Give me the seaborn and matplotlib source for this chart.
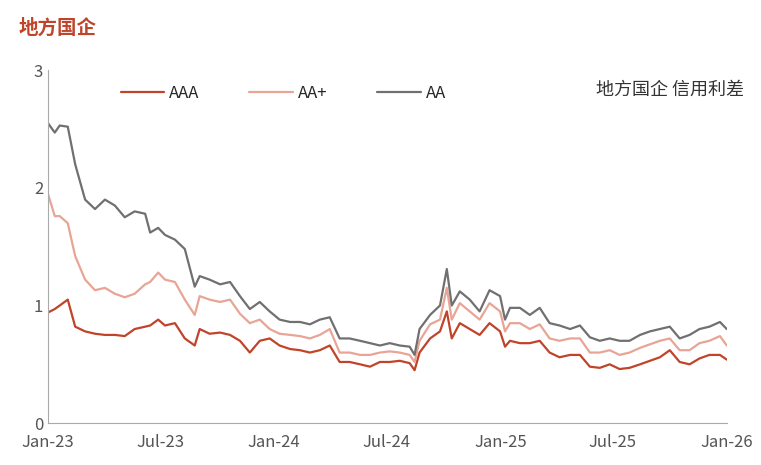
import pandas as pd
import matplotlib.pyplot as plt
import matplotlib.dates as mdates
import seaborn as sns

dates = ['2023-01-01', '2023-01-12', '2023-01-20', '2023-02-02', '2023-02-14', '2023-03-02', '2023-03-18', '2023-04-03',
         '2023-04-19', '2023-05-05', '2023-05-21', '2023-06-07', '2023-06-15', '2023-06-28', '2023-07-09', '2023-07-25',
         '2023-08-10', '2023-08-26', '2023-09-03', '2023-09-19', '2023-10-06', '2023-10-22', '2023-11-07', '2023-11-23',
         '2023-12-09', '2023-12-25', '2024-01-10', '2024-01-27', '2024-02-12', '2024-02-28', '2024-03-15', '2024-03-31',
         '2024-04-16', '2024-05-02', '2024-05-19', '2024-06-04', '2024-06-20', '2024-07-06', '2024-07-22', '2024-08-07',
         '2024-08-15', '2024-08-23', '2024-09-09', '2024-09-25', '2024-10-06', '2024-10-14', '2024-10-27', '2024-11-12',
         '2024-11-28', '2024-12-14', '2024-12-31', '2025-01-08', '2025-01-16', '2025-02-01', '2025-02-17', '2025-03-05',
         '2025-03-21', '2025-04-06', '2025-04-23', '2025-05-09', '2025-05-25', '2025-06-10', '2025-06-26', '2025-07-12',
         '2025-07-28', '2025-08-14', '2025-08-30', '2025-09-15', '2025-10-01', '2025-10-17', '2025-11-02', '2025-11-18',
         '2025-12-04', '2025-12-21', '2026-01-01']

aaa = [0.94, 0.97, 1.0, 1.05, 0.82, 0.78, 0.76, 0.75, 0.75, 0.74,
       0.80, 0.82, 0.83, 0.88, 0.83, 0.85, 0.72, 0.66, 0.80, 0.76,
       0.77, 0.75, 0.70, 0.60, 0.70, 0.72, 0.66, 0.63, 0.62, 0.60,
       0.62, 0.66, 0.52, 0.52, 0.50, 0.48, 0.52, 0.52, 0.53, 0.51,
       0.45, 0.60, 0.72, 0.78, 0.95, 0.72, 0.85, 0.80, 0.75, 0.85,
       0.78, 0.65, 0.70, 0.68, 0.68, 0.70, 0.60, 0.56, 0.58, 0.58,
       0.48, 0.47, 0.50, 0.46, 0.47, 0.50, 0.53, 0.56, 0.62, 0.52,
       0.50, 0.55, 0.58, 0.58, 0.54]

aa_plus = [1.95, 1.76, 1.76, 1.70, 1.42, 1.22, 1.13, 1.15, 1.10, 1.07,
           1.10, 1.18, 1.20, 1.28, 1.22, 1.20, 1.05, 0.92, 1.08, 1.05,
           1.03, 1.05, 0.93, 0.85, 0.88, 0.80, 0.76, 0.75, 0.74, 0.72,
           0.75, 0.80, 0.60, 0.60, 0.58, 0.58, 0.60, 0.61, 0.60, 0.58,
           0.52, 0.70, 0.84, 0.88, 1.15, 0.88, 1.02, 0.95, 0.88, 1.02,
           0.95, 0.78, 0.85, 0.85, 0.80, 0.84, 0.72, 0.70, 0.72, 0.72,
           0.60, 0.60, 0.62, 0.58, 0.60, 0.64, 0.67, 0.70, 0.72, 0.62,
           0.62, 0.68, 0.70, 0.74, 0.66]

aa = [2.55, 2.47, 2.53, 2.52, 2.2, 1.9, 1.82, 1.9, 1.85, 1.75,
      1.8, 1.78, 1.62, 1.66, 1.60, 1.56, 1.48, 1.16, 1.25, 1.22,
      1.18, 1.20, 1.08, 0.97, 1.03, 0.95, 0.88, 0.86, 0.86, 0.84,
      0.88, 0.90, 0.72, 0.72, 0.70, 0.68, 0.66, 0.68, 0.66, 0.65,
      0.58, 0.80, 0.92, 1.0, 1.31, 1.0, 1.12, 1.05, 0.95, 1.13,
      1.08, 0.88, 0.98, 0.98, 0.92, 0.98, 0.85, 0.83, 0.80, 0.83,
      0.73, 0.70, 0.72, 0.70, 0.70, 0.75, 0.78, 0.80, 0.82, 0.72,
      0.75, 0.80, 0.82, 0.86, 0.80]

df = pd.DataFrame({'date': pd.to_datetime(dates), 'AAA': aaa, 'AA+': aa_plus, 'AA': aa})
long = df.melt(id_vars='date', var_name='rating', value_name='spread')

sns.set_style('white')
plt.rcParams['font.family'] = ['Noto Sans CJK SC', 'DejaVu Sans']

fig = plt.figure(figsize=(7.61, 4.65), dpi=100)
ax = fig.add_axes([0.063, 0.090, 0.892, 0.759])
palette = {'AAA': '#C0442A', 'AA+': '#E8A595', 'AA': '#707070'}
sns.lineplot(data=long, x='date', y='spread', hue='rating', palette=palette,
             linewidth=1.6, ax=ax)

ax.set_xlim(pd.Timestamp('2023-01-01'), pd.Timestamp('2026-01-01'))
ax.set_ylim(0, 3)
ax.set_yticks([0, 1, 2, 3])
ax.xaxis.set_major_locator(mdates.MonthLocator(bymonth=[1, 7]))
ax.xaxis.set_major_formatter(mdates.DateFormatter('%b-%y'))
ax.set_xlabel('')
ax.set_ylabel('')
for s in ['top', 'right']:
    ax.spines[s].set_visible(False)
for s in ['left', 'bottom']:
    ax.spines[s].set_color('#AAAAAA')
ax.tick_params(axis='x', which='major', direction='out', length=4, color='#AAAAAA',
               labelsize=12, labelcolor='#555555')
ax.tick_params(axis='y', length=0, labelsize=12, labelcolor='#555555')

ax.legend(loc='upper left', bbox_to_anchor=(0.085, 1.0), ncol=3, frameon=False,
          fontsize=12, handlelength=2.6, handletextpad=0.3, columnspacing=3.0, title=None)
ax.text(1.025, 0.97, '地方国企 信用利差', transform=ax.transAxes, ha='right', va='top',
        fontsize=13, color='#333333')
fig.text(0.025, 0.94, '地方国企', fontsize=14, fontweight='bold', color='#C0442A',
         ha='left', va='center')

fig.savefig('out.png', dpi=100)
